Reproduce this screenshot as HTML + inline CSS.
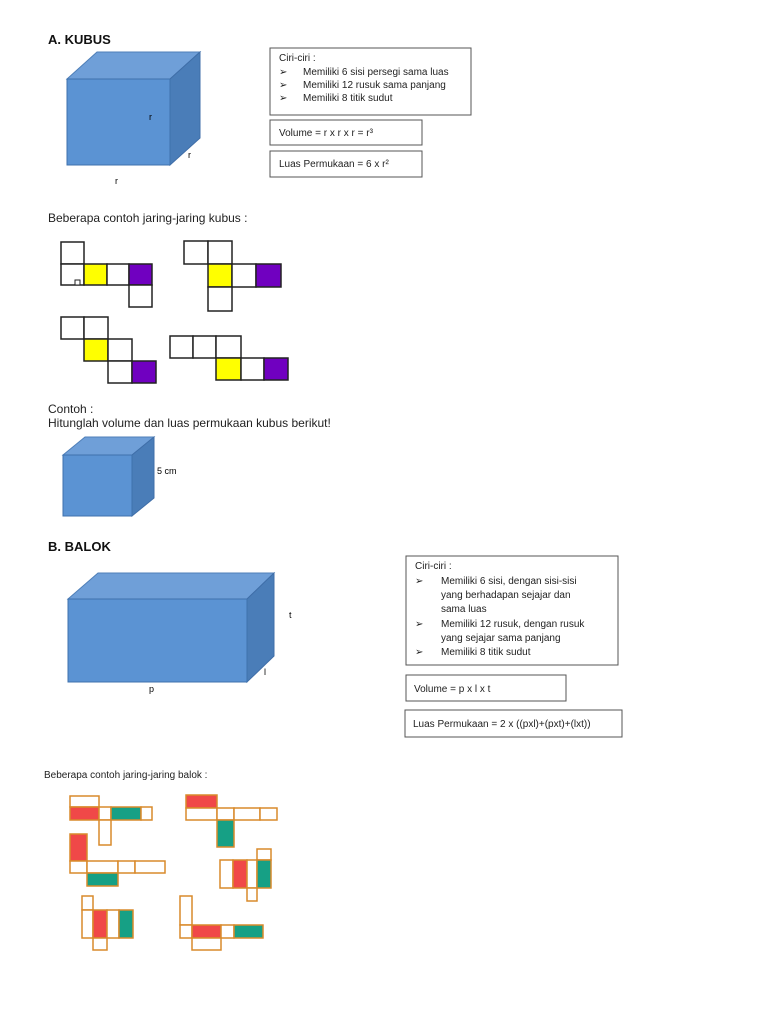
<!DOCTYPE html>
<html><head><meta charset="utf-8"><style>
body{margin:0;background:#fff}
svg{display:block}
text{font-family:"Liberation Sans",sans-serif}
.c{font-size:10px;fill:#222}
</style></head><body>
<svg width="768" height="1024" viewBox="0 0 768 1024">
<text x="48" y="44" font-size="13" font-weight="bold" fill="#111">A.  KUBUS</text>
<!-- cube -->
<polygon points="67,79 97,52 200,52 170,79" fill="#6f9fd8" stroke="#4f7fb8"/>
<polygon points="170,79 200,52 200,138 170,165" fill="#4a7db8" stroke="#3f6ea8"/>
<rect x="67" y="79" width="103" height="86" fill="#5b93d3" stroke="#3f72ad"/>
<text x="149" y="120" font-size="9">r</text>
<text x="188" y="158" font-size="9">r</text>
<text x="115" y="184" font-size="9">r</text>
<!-- kubus boxes -->
<g stroke="#555" fill="none"><rect x="270" y="48" width="201" height="67"/><rect x="270" y="120" width="152" height="25"/><rect x="270" y="151" width="152" height="26"/></g>
<text x="279" y="61" class="c">Ciri-ciri :</text>
<text x="279" y="75" class="c">➢</text><text x="303" y="75" class="c">Memiliki 6 sisi persegi sama luas</text>
<text x="279" y="88" class="c">➢</text><text x="303" y="88" class="c">Memiliki 12 rusuk sama panjang</text>
<text x="279" y="101" class="c">➢</text><text x="303" y="101" class="c">Memiliki 8 titik sudut</text>
<text x="279" y="136" class="c">Volume = r x r x r = r³</text>
<text x="279" y="167" class="c">Luas Permukaan = 6 x r²</text>
<text x="48" y="222" font-size="12" fill="#222">Beberapa contoh jaring-jaring kubus :</text>
<!-- cube nets -->
<g stroke="#222" stroke-width="1.5">
<rect x="61" y="242" width="23" height="22" fill="#fff"/>
<rect x="61" y="264" width="23" height="21" fill="#fff"/><rect x="84" y="264" width="23" height="21" fill="#ffff00"/><rect x="107" y="264" width="22" height="21" fill="#fff"/><rect x="129" y="264" width="23" height="21" fill="#7000c0"/>
<rect x="129" y="285" width="23" height="22" fill="#fff"/>
<rect x="75" y="280" width="5" height="5" fill="#fff" stroke-width="1"/>
<rect x="184" y="241" width="24" height="23" fill="#fff"/><rect x="208" y="241" width="24" height="23" fill="#fff"/>
<rect x="208" y="264" width="24" height="23" fill="#ffff00"/><rect x="232" y="264" width="24" height="23" fill="#fff"/><rect x="256" y="264" width="25" height="23" fill="#7000c0"/>
<rect x="208" y="287" width="24" height="24" fill="#fff"/>
<rect x="61" y="317" width="23" height="22" fill="#fff"/><rect x="84" y="317" width="24" height="22" fill="#fff"/>
<rect x="84" y="339" width="24" height="22" fill="#ffff00"/><rect x="108" y="339" width="24" height="22" fill="#fff"/>
<rect x="108" y="361" width="24" height="22" fill="#fff"/><rect x="132" y="361" width="24" height="22" fill="#7000c0"/>
<rect x="170" y="336" width="23" height="22" fill="#fff"/><rect x="193" y="336" width="23" height="22" fill="#fff"/><rect x="216" y="336" width="25" height="22" fill="#fff"/>
<rect x="216" y="358" width="25" height="22" fill="#ffff00"/><rect x="241" y="358" width="23" height="22" fill="#fff"/><rect x="264" y="358" width="24" height="22" fill="#7000c0"/>
</g>
<text x="48" y="413" font-size="12" fill="#222">Contoh :</text>
<text x="48" y="427" font-size="12" fill="#222">Hitunglah volume dan luas permukaan kubus berikut!</text>
<polygon points="63,455 85,437 154,437 132,455" fill="#6f9fd8" stroke="#4f7fb8"/>
<polygon points="132,455 154,437 154,498 132,516" fill="#4a7db8" stroke="#3f6ea8"/>
<rect x="63" y="455" width="69" height="61" fill="#5b93d3" stroke="#3f72ad"/>
<text x="157" y="474" font-size="9">5 cm</text>
<text x="48" y="551" font-size="13" font-weight="bold" fill="#111">B.  BALOK</text>
<polygon points="68,599 98,573 274,573 247,599" fill="#6f9fd8" stroke="#4f7fb8"/>
<polygon points="247,599 274,573 274,656 247,682" fill="#4a7db8" stroke="#3f6ea8"/>
<rect x="68" y="599" width="179" height="83" fill="#5b93d3" stroke="#3f72ad"/>
<text x="289" y="618" font-size="9">t</text>
<text x="264" y="675" font-size="9">l</text>
<text x="149" y="692" font-size="9">p</text>
<g stroke="#555" fill="none"><rect x="406" y="556" width="212" height="109"/><rect x="406" y="675" width="160" height="26"/><rect x="405" y="710" width="217" height="27"/></g>
<text x="415" y="569" class="c">Ciri-ciri :</text>
<text x="415" y="584" class="c">➢</text><text x="441" y="584" class="c">Memiliki 6 sisi, dengan sisi-sisi</text>
<text x="441" y="598" class="c">yang berhadapan sejajar dan</text>
<text x="441" y="612" class="c">sama luas</text>
<text x="415" y="627" class="c">➢</text><text x="441" y="627" class="c">Memiliki 12 rusuk, dengan rusuk</text>
<text x="441" y="641" class="c">yang sejajar sama panjang</text>
<text x="415" y="655" class="c">➢</text><text x="441" y="655" class="c">Memiliki 8 titik sudut</text>
<text x="414" y="692" class="c">Volume = p x l x t</text>
<text x="413" y="727" class="c">Luas Permukaan = 2 x ((pxl)+(pxt)+(lxt))</text>
<text x="44" y="778" font-size="10" fill="#222">Beberapa contoh jaring-jaring balok :</text>
<g stroke="#d98a2b" stroke-width="1.5">
<rect x="70" y="796" width="29" height="11" fill="#fff"/><rect x="70" y="807" width="29" height="13" fill="#f04848"/><rect x="99" y="807" width="12" height="13" fill="#fff"/><rect x="111" y="807" width="30" height="13" fill="#16a085"/><rect x="141" y="807" width="11" height="13" fill="#fff"/><rect x="99" y="820" width="12" height="25" fill="#fff"/>
<rect x="186" y="795" width="31" height="13" fill="#f04848"/><rect x="186" y="808" width="31" height="12" fill="#fff"/><rect x="217" y="808" width="17" height="12" fill="#fff"/><rect x="234" y="808" width="26" height="12" fill="#fff"/><rect x="260" y="808" width="17" height="12" fill="#fff"/><rect x="217" y="820" width="17" height="27" fill="#16a085"/>
<rect x="70" y="834" width="17" height="27" fill="#f04848"/><rect x="70" y="861" width="17" height="12" fill="#fff"/><rect x="87" y="861" width="31" height="12" fill="#fff"/><rect x="118" y="861" width="17" height="12" fill="#fff"/><rect x="135" y="861" width="30" height="12" fill="#fff"/><rect x="87" y="873" width="31" height="13" fill="#16a085"/>
<rect x="257" y="849" width="14" height="11" fill="#fff"/><rect x="220" y="860" width="13" height="28" fill="#fff"/><rect x="233" y="860" width="14" height="28" fill="#f04848"/><rect x="247" y="860" width="10" height="28" fill="#fff"/><rect x="257" y="860" width="14" height="28" fill="#16a085"/><rect x="247" y="888" width="10" height="13" fill="#fff"/>
<rect x="82" y="896" width="11" height="14" fill="#fff"/><rect x="82" y="910" width="11" height="28" fill="#fff"/><rect x="93" y="910" width="14" height="28" fill="#f04848"/><rect x="107" y="910" width="12" height="28" fill="#fff"/><rect x="119" y="910" width="14" height="28" fill="#16a085"/><rect x="93" y="938" width="14" height="12" fill="#fff"/>
<rect x="180" y="896" width="12" height="29" fill="#fff"/><rect x="180" y="925" width="12" height="13" fill="#fff"/><rect x="192" y="925" width="29" height="13" fill="#f04848"/><rect x="221" y="925" width="13" height="13" fill="#fff"/><rect x="234" y="925" width="29" height="13" fill="#16a085"/><rect x="192" y="938" width="29" height="12" fill="#fff"/>
</g>
</svg>
</body></html>
